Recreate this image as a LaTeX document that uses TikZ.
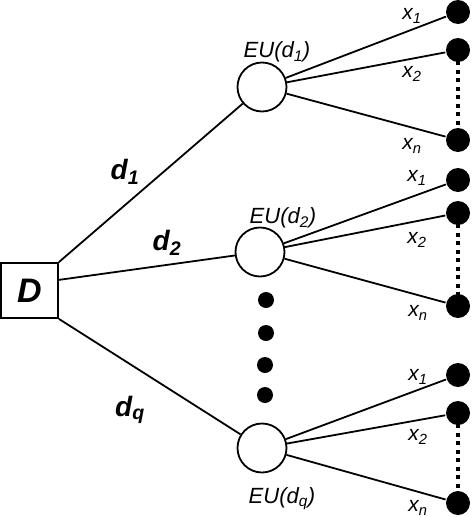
\documentclass[tikz,border=0pt]{standalone}
\usepackage{fontspec}
\setmainfont{Liberation Sans}
\begin{document}
\begin{tikzpicture}[x=1pt,y=-1pt,line width=1.8pt,
  chance/.style={circle,draw,fill=white,minimum size=49pt,inner sep=0pt},
  leaf/.style={circle,fill=black,minimum size=24pt,inner sep=0pt},
  gap/.style={circle,fill=black,minimum size=16pt,inner sep=0pt},
  lab/.style={font=\fontsize{22}{22}\selectfont\itshape,inner sep=0pt},
  xlab/.style={font=\fontsize{21}{21}\selectfont\itshape,inner sep=0pt},
  dlab/.style={font=\fontsize{28}{28}\selectfont\bfseries\itshape,inner sep=0pt},
  vdots/.style={line width=3.5pt,dash pattern=on 4pt off 4.5pt}]
\useasboundingbox (0,0) rectangle (474,517);
\node[draw,minimum width=57pt,minimum height=55pt,inner sep=0pt,font=\fontsize{34}{34}\selectfont\bfseries\itshape] (D) at (29.5,290.5) {D};
\node[chance] (c1) at (262,87) {};
\node[chance] (c2) at (260,252) {};
\node[chance] (cq) at (262,448) {};
% leaves
\node[leaf] (a1) at (458,12) {};
\node[leaf] (a2) at (458,50) {};
\node[leaf] (an) at (458,140) {};
\node[leaf] (b1) at (458,180) {};
\node[leaf] (b2) at (458,213) {};
\node[leaf] (bn) at (458,306) {};
\node[leaf] (e1) at (458,375) {};
\node[leaf] (e2) at (458,413) {};
\node[leaf] (en) at (458,503) {};
% gap dots
\node[gap] (g1) at (266,300) {};
\node[gap] (g2) at (266,333) {};
\node[gap] (g3) at (265,365) {};
\node[gap] (g4) at (265,395) {};
% D branches
\coordinate (Dm) at (58,280);
\draw (D.north east) -- (c1);
\draw (Dm) -- (c2);
\draw (D.south east) -- (cq);
% chance branches
\foreach \c/\p in {c1/a,c2/b,cq/e}{
  \draw (\c) -- (\p1);
  \draw (\c) -- (\p2);
  \draw (\c) -- (\p n);
}
% vertical dotted
\draw[vdots] ([yshift=10pt]a2.south) -- ([yshift=-2pt]an.north);
\draw[vdots] ([yshift=10pt]b2.south) -- ([yshift=-2pt]bn.north);
\draw[vdots] ([yshift=10pt]e2.south) -- ([yshift=-2pt]en.north);
% labels
\node[lab] (l1) at (277,52) {EU(d\textsubscript{1})};
\node[lab] (l2) at (283,218) {EU(d\textsubscript{2})};
\node[lab] (lq) at (282,499) {EU(d\textsubscript{q})};
\node[xlab] (xa1) at (412,16) {x\textsubscript{1}};
\node[xlab] (xa2) at (412,74) {x\textsubscript{2}};
\node[xlab] (xan) at (412,146) {x\textsubscript{n}};
\node[xlab] (xb1) at (417,178) {x\textsubscript{1}};
\node[xlab] (xb2) at (417,240) {x\textsubscript{2}};
\node[xlab] (xbn) at (418,313) {x\textsubscript{n}};
\node[xlab] (xe1) at (418,377) {x\textsubscript{1}};
\node[xlab] (xe2) at (418,437) {x\textsubscript{2}};
\node[xlab] (xen) at (418,508) {x\textsubscript{n}};
\node[dlab] (d1) at (125,172) {d\textsubscript{1}};
\node[dlab] (d2) at (167,243) {d\textsubscript{2}};
\node[dlab] (dq) at (130,410) {d\textsubscript{q}};
\end{tikzpicture}
\end{document}
